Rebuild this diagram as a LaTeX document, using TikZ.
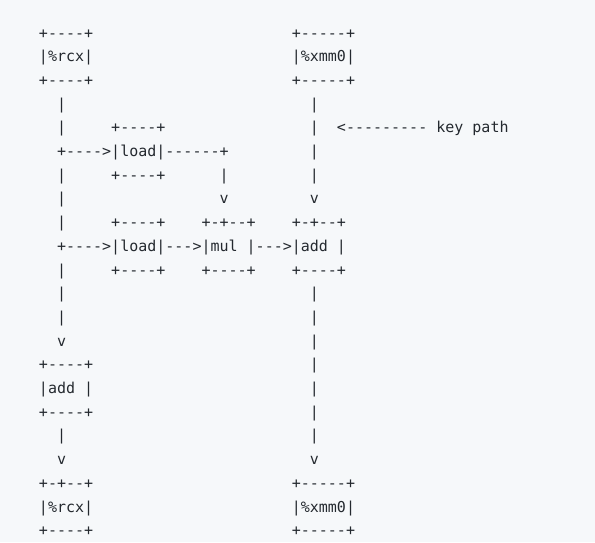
\documentclass[tikz,border=0pt]{standalone}
\usepackage{fontspec}
\setmonofont{DejaVu Sans Mono}
\definecolor{codeText}{HTML}{24292F}
\definecolor{codeBack}{HTML}{F6F8FA}

\begin{document}
\begin{tikzpicture}
[x=9.03pt,y=-23.7pt,%
  charDecorate/.style={anchor=base west,inner sep=0pt,outer sep=0pt,text=codeText,%
    font=\ttfamily\fontsize{15pt}{18pt}\selectfont},%
  ]
%% background and margins
\fill[codeBack] (-39pt,38pt) rectangle (556pt,-504pt);
\useasboundingbox (-39pt,38pt) rectangle (556pt,-504pt);
%% boxes
\foreach \nodename/\x/\y/\topline/\midline/\botline in {
  rcxIn/0/0/+----+/|\%rcx|/+----+, xmmIn/28/0/+-----+/|\%xmm0|/+-----+,
  loadA/8/4/+----+/|load|/+----+, loadB/8/8/+----+/|load|/+----+,
  mul/18/8/+-+--+/|mul |/+----+, addVec/28/8/+-+--+/|add |/+----+,
  addInt/0/14/+----+/|add |/+----+,
  rcxOut/0/19/+-+--+/|\%rcx|/+----+, xmmOut/28/19/+-----+/|\%xmm0|/+-----+}
{
  \node[charDecorate] (\nodename-top) at (\x,\y) {\topline};
  \node[charDecorate] (\nodename) at (\x,\y+1) {\midline};
  \node[charDecorate] (\nodename-bot) at (\x,\y+2) {\botline};
}
%% vertical bars
\foreach \y in {3,4,6,7,8,10,11,12,17}
  \node[charDecorate] (rcxBar-\y) at (2,\y) {|};
\foreach \y in {3,4,5,6,11,12,13,14,15,16,17}
  \node[charDecorate] (xmmBar-\y) at (30,\y) {|};
\node[charDecorate] (mulBar) at (20,6) {|};
%% arrow heads
\foreach \nodename/\x/\y in {
  rcxHead/2/13, mulHead/20/7, addHead/30/7, rcxOutHead/2/18, xmmOutHead/30/18}
  \node[charDecorate] (\nodename) at (\x,\y) {v};
%% horizontal links
\foreach \nodename/\x/\y/\txt in {
  toLoadA/2/5/+---->, toLoadB/2/9/+---->, loadAToMul/14/5/------+,
  loadBToMul/14/9/--->, mulToAdd/24/9/--->, keyArrow/33/4/<---------}
{
  \node[charDecorate] (\nodename) at (\x,\y) {\txt};
}
\node[charDecorate] (keyLabel) at (44,4) {key path};
\end{tikzpicture}
\end{document}
